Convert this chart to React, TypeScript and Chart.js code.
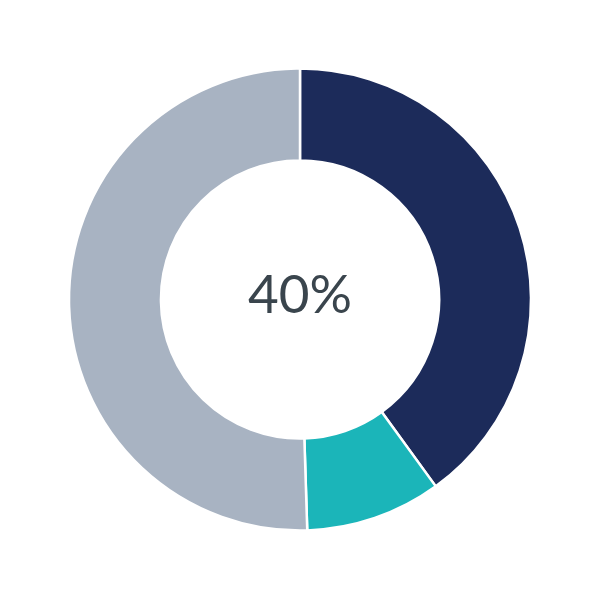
import { useEffect, useRef } from 'react'
import { Chart, registerables } from 'chart.js'

Chart.register(...registerables)

const labels = ['Primary', 'Secondary', 'Remaining']
const values = [40, 9.5, 50.5]
const colors = ['#1c2b5a', '#1bb5b9', '#a8b3c2']
const centerLabel = '40%'

const centerTextPlugin = {
  id: 'centerText',
  afterDraw(chart: Chart) {
    const { ctx, chartArea } = chart
    const cx = (chartArea.left + chartArea.right) / 2
    ctx.save()
    ctx.font = '400 53px Lato, "Open Sans", sans-serif'
    ctx.fillStyle = '#3a454d'
    ctx.textAlign = 'center'
    ctx.textBaseline = 'alphabetic'
    ctx.fillText(centerLabel, cx, 313)
    ctx.restore()
  },
}

export default function App() {
  const chartRef = useRef<HTMLCanvasElement>(null)
  const chartInstance = useRef<Chart | null>(null)

  useEffect(() => {
    if (!chartRef.current) return
    const ctx = chartRef.current.getContext('2d')
    if (!ctx) return
    if (chartInstance.current) chartInstance.current.destroy()

    chartInstance.current = new Chart(ctx, {
      type: 'doughnut',
      data: {
        labels,
        datasets: [
          {
            data: values,
            backgroundColor: colors,
            borderColor: '#ffffff',
            borderWidth: 2.5,
          },
        ],
      },
      options: {
        animation: false,
        responsive: true,
        maintainAspectRatio: false,
        radius: 231,
        cutout: '60.2%',
        plugins: {
          legend: { display: false },
          tooltip: { enabled: false },
        },
      },
      plugins: [centerTextPlugin],
    })

    return () => {
      if (chartInstance.current) {
        chartInstance.current.destroy()
        chartInstance.current = null
      }
    }
  }, [])

  return (
    <div style={{ position: 'absolute', left: 0, top: 0, width: 600, height: 599, background: '#ffffff' }}>
      <canvas ref={chartRef} />
    </div>
  )
}
